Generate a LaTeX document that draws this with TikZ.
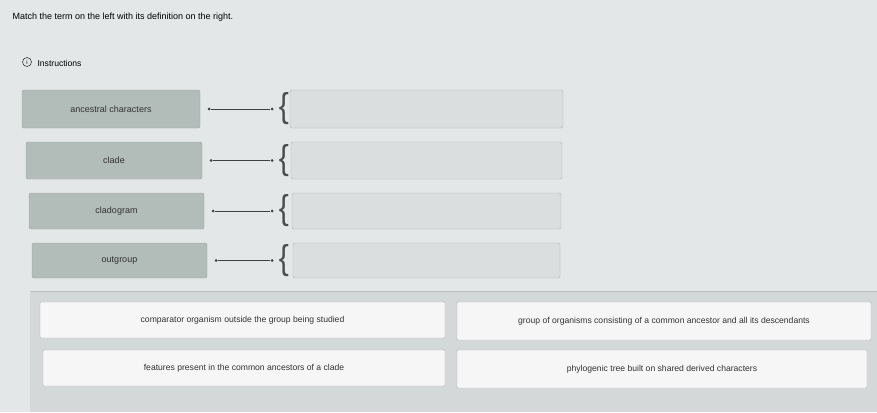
\documentclass[tikz,border=0pt]{standalone}
\usepackage{fontspec}
\setmainfont{Liberation Sans}
\definecolor{termc}{RGB}{178,188,184}
\definecolor{slotc}{RGB}{218,222,222}
\definecolor{bgc}{RGB}{228,231,232}
\definecolor{panelc}{RGB}{212,216,217}
\begin{document}
\begin{tikzpicture}[x=1pt,y=-1pt,
  term/.style={draw=gray!70,fill=termc,rounded corners=1.5pt,font=\fontsize{9}{10}\selectfont,text=black!80},
  slot/.style={draw=gray!60,fill=slotc,rounded corners=1.5pt},
  opt/.style={draw=gray!60,fill=white!93!gray,rounded corners=1pt,font=\fontsize{8.6}{10}\selectfont,text=black!80},
  dot/.style={circle,fill=black!75,inner sep=0pt,minimum size=3pt},
  link/.style={draw=black!75,line width=0.9pt}]
\fill[bgc] (0,0) rectangle (877,412);
\useasboundingbox (0,0) rectangle (877,412);
\node[anchor=west,font=\fontsize{9}{10}\selectfont] (title) at (9,17) {Match the term on the left with its definition on the right.};
\node[circle,draw,inner sep=0pt,minimum size=9pt,font=\fontsize{6}{6}\selectfont] (ic) at (27,62) {i};
\node[anchor=west,font=\fontsize{8.6}{10}\selectfont] (ins) at (34,63) {Instructions};
\foreach \n/\t/\xa/\xb/\ya/\yb/\sa/\sb in {
  a/ancestral characters/22/200/90/128/290/563,
  b/clade/26/202/142/179/291/562,
  c/cladogram/29/204/193/229/292/561,
  d/outgroup/32/207/243/278/293/560}{
  \node[term,minimum width={\xb-\xa},minimum height={\yb-\ya}] (t\n) at ({(\xa+\xb)/2},{(\ya+\yb)/2}) {\t};
  \node[slot,minimum width={\sb-\sa},minimum height={\yb-\ya}] (s\n) at ({(\sa+\sb)/2},{(\ya+\yb)/2}) {};
  \node[dot] (p\n) at ({\xb+9},{(\ya+\yb)/2}) {};
  \node[dot] (q\n) at (272,{(\ya+\yb)/2}) {};
  \draw[link] (p\n) -- (q\n);
  \node[font=\fontsize{30}{30}\selectfont,text=black!70,inner sep=0pt,yscale=1.15] (br\n) at (284,{(\ya+\yb)/2}) {\{};
}
\fill[panelc] (30,291) rectangle (877,412);
\draw[gray!50] (30,291) -- (877,291);
\node[opt,minimum width=405pt,minimum height=36pt] (o1) at (242.5,320) {comparator organism outside the group being studied};
\node[opt,minimum width=414pt,minimum height=38pt] (o2) at (664,321) {group of organisms consisting of a common ancestor and all its descendants};
\node[opt,minimum width=402pt,minimum height=36pt] (o3) at (244,368) {features present in the common ancestors of a clade};
\node[opt,minimum width=410pt,minimum height=38pt] (o4) at (662,369) {phylogenic tree built on shared derived characters};
\end{tikzpicture}
\end{document}
